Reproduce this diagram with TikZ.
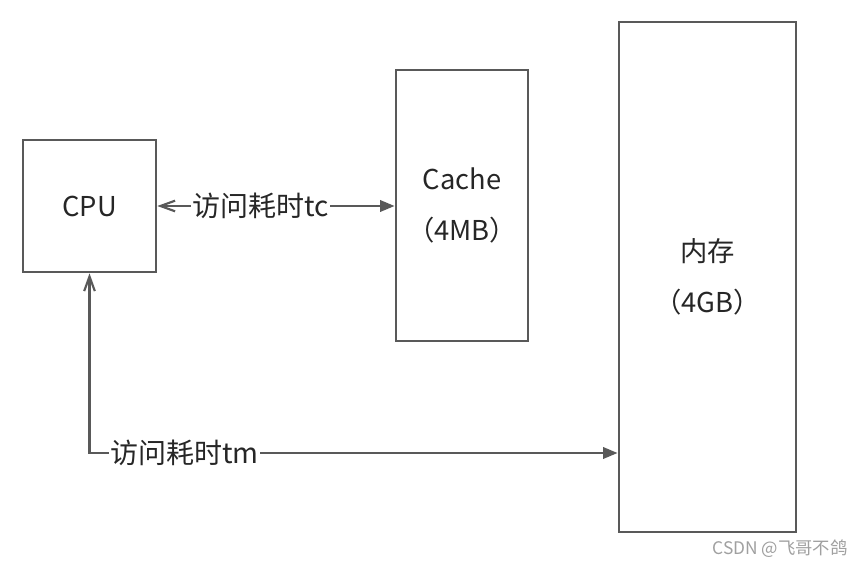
\documentclass[tikz,border=0pt]{standalone}
\usepackage{fontspec}
\setmainfont{Noto Sans CJK SC}
\usetikzlibrary{arrows.meta}
\definecolor{linegray}{HTML}{595959}
\definecolor{textdark}{HTML}{262626}
\definecolor{wmgray}{HTML}{A0A0A0}
\begin{document}
\begin{tikzpicture}[x=0.75pt,y=-0.75pt,
  box/.style={draw=linegray,line width=2pt,fill=white,inner sep=0pt,align=center,
    text=textdark,font=\fontsize{20.5pt}{38pt}\selectfont},
  conn/.style={draw=linegray,line width=2pt,
    {Straight Barb[length=11pt,width=8pt,line width=1.6pt]}-{Triangle[length=11pt,width=8.5pt]}},
  lbl/.style={fill=white,inner sep=1pt,text=textdark,font=\fontsize{21pt}{24pt}\selectfont}]
\useasboundingbox[fill=white] (0,0) rectangle (864,567);
\node[box,minimum width=99.75pt,minimum height=99pt] (cpu) at (89.5,206) {CPU};
\node[box,minimum width=99pt,minimum height=203.25pt] (cache) at (462,205.5) {Cache\\（4MB）};
\node[box,minimum width=132.75pt,minimum height=382.5pt] (mem) at (707.5,277) {内存\\（4GB）};
\coordinate (tmrow) at (0,453);
\draw[conn] (cpu.east) -- node[lbl,pos=0.435] (tc) {访问耗时tc} (cpu.east -| cache.west);
\draw[conn] (cpu.south) |- node[lbl,pos=0.59] (tm) {访问耗时tm} (mem.west |- tmrow);
\node[text=wmgray,font=\fontsize{13pt}{15pt}\selectfont] (wm) at (780,549) {CSDN @飞哥不鸽};
\end{tikzpicture}
\end{document}
